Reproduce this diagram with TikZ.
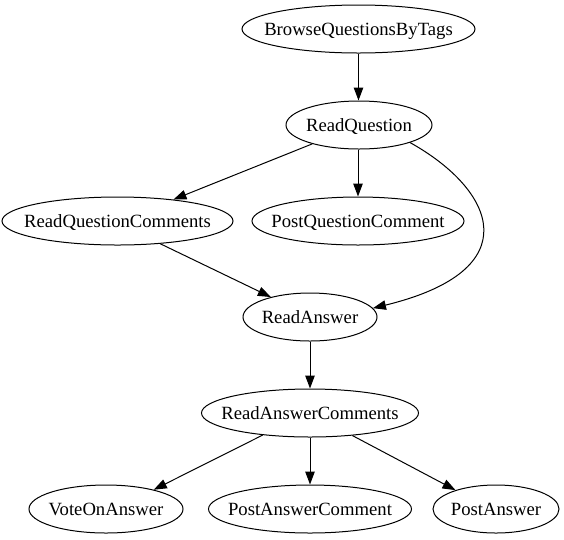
\documentclass[tikz,border=0pt]{standalone}
\usepackage{fontspec}
\setmainfont{Liberation Serif}
\usetikzlibrary{shapes.geometric,arrows.meta}
\newcommand\mytx[1]{\hbox to 0pt{\hss#1\hss}}
\begin{document}
\begin{tikzpicture}[x=1pt,y=-1pt,
  st/.style={ellipse,draw,line width=1pt,inner sep=0pt,minimum height=48pt,
    text height=12.4pt,text depth=0pt,font=\fontsize{18.67}{20}\selectfont},
  ar/.style={line width=1pt,-{Triangle[length=13pt,width=9.5pt]}}]
\useasboundingbox (0,0) rectangle (564,539);
\node[st,minimum width=233pt] (B) at (358.5,29) {\mytx{BrowseQuestionsByTags}};
\node[st,minimum width=146pt] (RQ) at (359,125) {\mytx{ReadQuestion}};
\node[st,minimum width=231pt] (RQC) at (117.5,221) {\mytx{ReadQuestionComments}};
\node[st,minimum width=212pt] (PQC) at (358,221) {\mytx{PostQuestionComment}};
\node[st,minimum width=134pt] (RA) at (310,317) {\mytx{ReadAnswer}};
\node[st,minimum width=217pt] (RAC) at (310,413) {\mytx{ReadAnswerComments}};
\node[st,minimum width=154pt] (VOA) at (106,509) {\mytx{VoteOnAnswer}};
\node[st,minimum width=203pt] (PAC) at (310,509) {\mytx{PostAnswerComment}};
\node[st,minimum width=126pt] (PA) at (496,509) {\mytx{PostAnswer}};
\draw[ar] (B.south) -- (B.south |- RQ.north);
\draw[ar] (RQ.202) -- (RQC.21);
\draw[ar] (RQ.south -| PQC.north) -- (PQC.north);
\draw[ar] (RQ.-19) .. controls (495,190) and (530,270) .. (RA.8);
\draw[ar] (RQC.-28) -- (RA.153);
\draw[ar] (RA.south) -- (RAC.north);
\draw[ar] (RAC.205) -- (VOA.22);
\draw[ar] (RAC.south) -- (PAC.north);
\draw[ar] (RAC.-28) -- (PA.155);
\end{tikzpicture}
\end{document}
